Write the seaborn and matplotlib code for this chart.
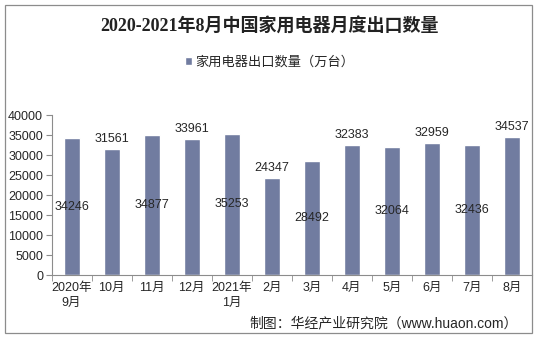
import matplotlib
matplotlib.use("Agg")
import matplotlib.pyplot as plt
from matplotlib.patches import Rectangle
import seaborn as sns

# data
months = ["2020年\n9月", "10月", "11月", "12月", "2021年\n1月", "2月", "3月",
          "4月", "5月", "6月", "7月", "8月"]
exports = [34246, 31561, 34877, 33961, 35253, 24347, 28492,
           32383, 32064, 32959, 32436, 34537]
series_name = "家用电器出口数量（万台）"
title = "2020-2021年8月中国家用电器月度出口数量"
source = "制图：华经产业研究院（www.huaon.com）"

sns.set_style("white")
plt.rcParams["font.family"] = ["Liberation Sans", "Noto Sans CJK SC"]

bar_color = "#717ca0"
axis_gray = "#8c8c8c"

fig = plt.figure(figsize=(5.39, 3.41), dpi=100)
ax = fig.add_axes([51.5 / 539, 1 - 275 / 341, 480.5 / 539, 160 / 341])

sns.barplot(x=months, y=exports, color=bar_color, width=0.4, ax=ax,
            label=series_name, saturation=1)

ax.set_ylim(0, 40000)
ax.set_xlim(-0.5, len(months) - 0.5)
ax.set_yticks(range(0, 40001, 5000))
ax.tick_params(axis="y", labelsize=9, length=4, color=axis_gray, pad=2,
               direction="out", left=True)
ax.set_xticks(range(len(months)))
ax.set_xticklabels(months, fontsize=9, linespacing=1.3)
ax.set_xticks([i - 0.5 for i in range(len(months) + 1)], minor=True)
ax.tick_params(axis="x", which="major", length=0, pad=5)
ax.tick_params(axis="x", which="minor", length=4, color=axis_gray,
               direction="out", bottom=True)
for side in ["top", "right"]:
    ax.spines[side].set_visible(False)
for side in ["left", "bottom"]:
    ax.spines[side].set_color(axis_gray)
    ax.spines[side].set_linewidth(0.8)
ax.set_xlabel("")
ax.set_ylabel("")

# value labels alternate: inside the bar middle, then above the bar
for i, v in enumerate(exports):
    if i % 2 == 0:
        ax.text(i, v / 2, str(v), ha="center", va="center", fontsize=9)
    else:
        ax.text(i, v + 1000, str(v), ha="center", va="bottom", fontsize=9)

if ax.legend_:
    ax.legend_.remove()
handles, labels = ax.get_legend_handles_labels()
fig.legend(handles, labels, loc="center", bbox_to_anchor=(0.5, 1 - 62 / 341),
           frameon=False, fontsize=9.5, handlelength=0.55, handleheight=0.55,
           handletextpad=0.2)

fig.text(0.5, 1 - 27 / 341, title, ha="center", va="center", fontsize=13,
         fontweight="bold", family=["Liberation Serif", "Noto Sans CJK SC"],
         color="#222222")
fig.text(518 / 539, 1 - 323 / 341, source, ha="right", va="center",
         fontsize=10)

fig.patches.append(Rectangle((4.5 / 539, 8 / 341), 527.5 / 539, 328 / 341,
                             transform=fig.transFigure, fill=False,
                             edgecolor="#8c8c8c", linewidth=0.9))

fig.savefig("out.png", dpi=100)
